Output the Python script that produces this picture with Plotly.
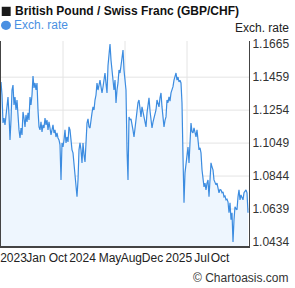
import plotly.graph_objects as go

# time index (chart columns, ~4.4 days each) and GBP/CHF exchange rate
t = list(range(1, 249))
rate = [
    1.1429, 1.1348, 1.1174, 1.1205, 1.1162, 1.1212, 1.1255, 1.1336, 1.1224, 1.1069,
    1.1193, 1.1379, 1.1410, 1.1286, 1.1336, 1.1255, 1.1317, 1.1174, 1.1131, 1.1081,
    1.1143, 1.1100, 1.1243, 1.1205, 1.1150, 1.1224, 1.1181, 1.1237, 1.1193, 1.1336,
    1.1286, 1.1348, 1.1466, 1.1392, 1.1423, 1.1379, 1.1423, 1.1255, 1.1150, 1.1131,
    1.1181, 1.1119, 1.1162, 1.1143, 1.1205, 1.1162, 1.1193, 1.1131, 1.1181, 1.1143,
    1.1100, 1.1131, 1.1162, 1.1112, 1.1131, 1.1087, 1.1112, 1.1081, 1.1069, 1.1038,
    1.0820, 1.1050, 1.1025, 1.1069, 1.1131, 1.1050, 1.1087, 1.1056, 1.1150, 1.1131,
    1.1050, 1.1007, 1.0988, 1.0914, 1.0870, 1.0789, 1.0715, 1.0820, 1.1007, 1.1050,
    1.1007, 1.0926, 1.1050, 1.0976, 1.0932, 1.1050, 1.1174, 1.1200, 1.1150, 1.1143,
    1.1212, 1.1237, 1.1274, 1.1255, 1.1317, 1.1348, 1.1423, 1.1379, 1.1410, 1.1441,
    1.1400, 1.1361, 1.1398, 1.1440, 1.1485, 1.1420, 1.1361, 1.1530, 1.1609, 1.1665,
    1.1566, 1.1490, 1.1441, 1.1379, 1.1441, 1.1299, 1.1380, 1.1423, 1.1504, 1.1485,
    1.1530, 1.1566, 1.1628, 1.1504, 1.1420, 1.1379, 1.1007, 1.0820, 1.1212, 1.1193,
    1.1200, 1.1174, 1.1130, 1.1087, 1.1150, 1.1200, 1.1274, 1.1300, 1.1317, 1.1250,
    1.1212, 1.1274, 1.1240, 1.1212, 1.1180, 1.1150, 1.1237, 1.1290, 1.1330, 1.1250,
    1.1193, 1.1143, 1.1180, 1.1212, 1.1240, 1.1255, 1.1317, 1.1290, 1.1274, 1.1330,
    1.1361, 1.1274, 1.1200, 1.1150, 1.1190, 1.1212, 1.1317, 1.1300, 1.1336, 1.1310,
    1.1361, 1.1379, 1.1400, 1.1441, 1.1470, 1.1485, 1.1441, 1.1460, 1.1429, 1.1440,
    1.1423, 1.1299, 1.0963, 1.0678, 1.0864, 1.0930, 1.0988, 1.1025, 1.0926, 1.1025,
    1.1174, 1.1120, 1.1112, 1.1143, 1.1110, 1.1087, 1.1131, 1.1080, 1.1007, 1.1020,
    1.0988, 1.0883, 1.0820, 1.0777, 1.0800, 1.0758, 1.0800, 1.0820, 1.0715, 1.0800,
    1.0926, 1.0900, 1.0883, 1.0820, 1.0800, 1.0789, 1.0800, 1.0777, 1.0740, 1.0760,
    1.0758, 1.0740, 1.0746, 1.0715, 1.0720, 1.0696, 1.0700, 1.0684, 1.0616, 1.0678,
    1.0572, 1.0616, 1.0434, 1.0572, 1.0653, 1.0640, 1.0634, 1.0715, 1.0758, 1.0696,
    1.0727, 1.0710, 1.0696, 1.0740, 1.0750, 1.0758, 1.0740, 1.0616,
]

y_ticks = [1.0434, 1.0639, 1.0844, 1.1049, 1.1254, 1.1459, 1.1665]
y_grid = [1.0639, 1.0844, 1.1049, 1.1254, 1.1459]
x_tick_pos = [13.5, 36, 58, 82.5, 110, 131.3, 152.5, 178.8, 202, 220]
x_tick_text = ["2023", "Jan", "Oct", "2024", "May", "Aug", "Dec", "2025", "Jul", "Oct"]

FONT = "Liberation Sans, Arial, sans-serif"
LINE = "#3c8ce0"
LEGEND_BLUE = "#4a90e2"

fig = go.Figure()
fig.add_trace(go.Scatter(
    x=t, y=rate, mode="lines",
    line=dict(color=LINE, width=1.2),
    fill="tozeroy", fillcolor="#eef6fe",
    showlegend=False, hoverinfo="skip",
))

shapes = []
for g in y_grid:
    shapes.append(dict(type="line", xref="x domain", yref="y", x0=0, x1=1, y0=g, y1=g,
                       line=dict(color="#e4e4e4", width=1), layer="below"))
for fx in [0.25, 0.5, 0.75]:
    shapes.append(dict(type="line", xref="x domain", yref="y domain", x0=fx, x1=fx, y0=0, y1=1,
                       line=dict(color="#e4e4e4", width=1), layer="below"))
# title marker square and legend dot
shapes.append(dict(type="rect", xref="paper", yref="paper", x0=0.003, x1=0.039,
                   y0=1.122, y1=1.167, fillcolor="#1a1a1a", line=dict(width=0)))
shapes.append(dict(type="circle", xref="paper", yref="paper", x0=0.0, x1=0.040,
                   y0=1.054, y1=1.099, fillcolor=LEGEND_BLUE, line=dict(width=0)))

fig.update_layout(
    width=295, height=288,
    margin=dict(l=1, r=46, t=41, b=42),
    paper_bgcolor="white", plot_bgcolor="white",
    font=dict(family=FONT, size=12, color="#222"),
    shapes=shapes,
    xaxis=dict(range=[1, 249], showgrid=False, zeroline=False,
               tickmode="array", tickvals=x_tick_pos, ticktext=x_tick_text,
               tickangle=0,
               showline=True, linecolor="#444", linewidth=1.5, ticks="",
               tickfont=dict(size=12, color="#222")),
    yaxis=dict(range=[1.0409, 1.1684], side="right", showgrid=False, zeroline=False,
               tickmode="array", tickvals=y_ticks, ticktext=[f"{v:.4f}" for v in y_ticks],
               showline=True, linecolor="#444", linewidth=1, mirror=True, ticks="",
               tickfont=dict(size=12, color="#333")),
    annotations=[
        dict(xref="paper", yref="paper", x=0.047, y=1.144, xanchor="left", yanchor="middle",
             text="<b>British Pound / Swiss Franc (GBP/CHF)</b>",
             showarrow=False, font=dict(size=12, color="#111")),
        dict(xref="paper", yref="paper", x=0.043, y=1.076, xanchor="left", yanchor="middle",
             text="Exch. rate", showarrow=False,
             font=dict(size=12, color=LEGEND_BLUE)),
        dict(xref="paper", yref="paper", x=1.169, y=1.063, xanchor="right", yanchor="middle",
             text="Exch. rate", showarrow=False, font=dict(size=12, color="#222")),
        dict(xref="paper", yref="paper", x=1.169, y=-0.156, xanchor="right", yanchor="middle",
             text="© Chartoasis.com", showarrow=False, font=dict(size=12, color="#333")),
    ],
)

fig.write_html("out.html")
